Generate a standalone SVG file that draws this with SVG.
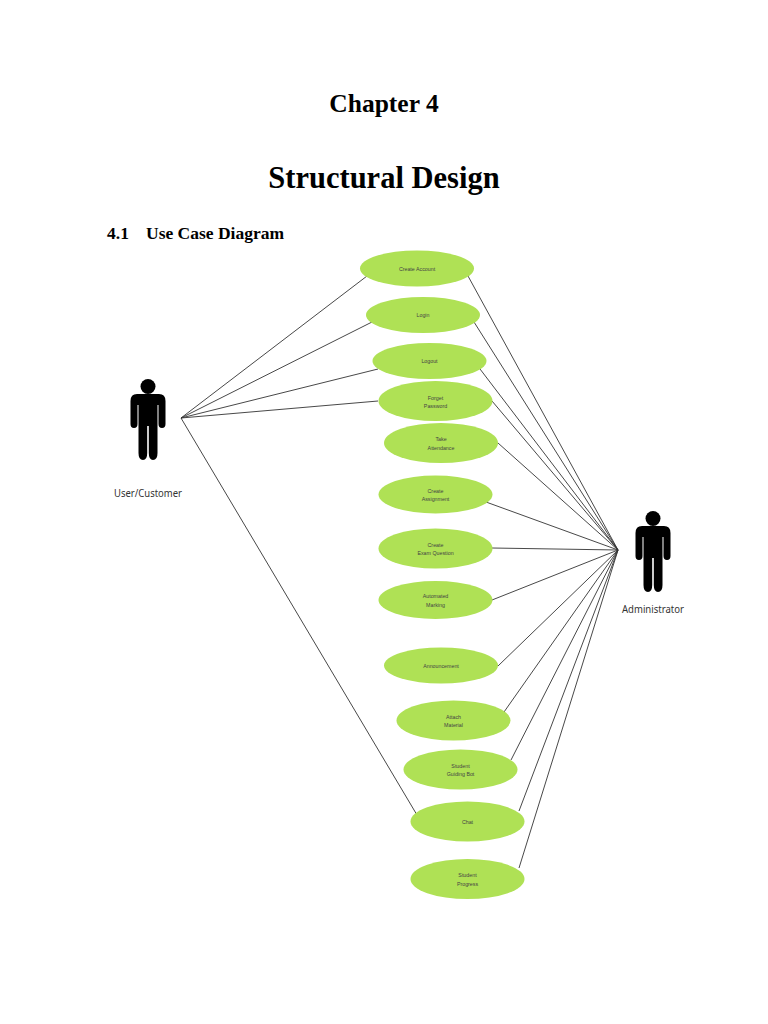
<svg xmlns="http://www.w3.org/2000/svg" width="768" height="1024" viewBox="0 0 768 1024">
<style>
.h{font-family:"Liberation Serif",serif;font-weight:bold;fill:#000}
.u{fill:#afe155}
.t{font-family:"Liberation Sans",sans-serif;font-size:5.3px;fill:#444;text-anchor:middle}
.a{font-family:"Noto Sans","Liberation Sans",sans-serif;font-size:10.5px;fill:#333;text-anchor:middle}
#connectors line{stroke:#333;stroke-width:.9}
</style>
<defs>
<g id="person"><circle cx="0" cy="-33.500" r="7.500" fill="#000"/><path d="M-11-26H11Q17.500-26 17.500-19V4Q17.500 8 14 8Q10.500 8 10.500 4V-15H9.500V33Q9.500 40 5 40Q.8 40 .8 33V6H-.8V33Q-.8 40-5 40Q-9.500 40-9.500 33V-15H-10.500V4Q-10.500 8-14 8Q-17.500 8-17.500 4V-19Q-17.500-26-11-26Z" fill="#000"/></g>
</defs>
<rect width="768" height="1024" fill="#fff"/>
<text class="h" x="384" y="112" font-size="25.500" text-anchor="middle">Chapter 4</text>
<text class="h" x="384" y="188" font-size="30.500" text-anchor="middle">Structural Design</text>
<text class="h" x="107" y="239" font-size="17.500">4.1</text>
<text class="h" x="146" y="239" font-size="17.500">Use Case Diagram</text>
<g id="connectors">
<line x1="181" y1="418" x2="367" y2="276"/><line x1="181" y1="418" x2="372" y2="322"/><line x1="181" y1="418" x2="378" y2="369"/><line x1="181" y1="418" x2="378" y2="401"/><line x1="181" y1="418" x2="417" y2="815"/>
<line x1="618" y1="550" x2="468" y2="276"/><line x1="618" y1="550" x2="474" y2="322"/><line x1="618" y1="550" x2="480" y2="369"/><line x1="618" y1="550" x2="492" y2="401"/><line x1="618" y1="550" x2="498" y2="443"/><line x1="618" y1="550" x2="486" y2="502"/><line x1="618" y1="550" x2="492" y2="548"/><line x1="618" y1="550" x2="492" y2="600"/><line x1="618" y1="550" x2="498" y2="666"/><line x1="618" y1="550" x2="504" y2="712"/><line x1="618" y1="550" x2="511" y2="760"/><line x1="618" y1="550" x2="519" y2="811"/><line x1="618" y1="550" x2="519" y2="868"/>
</g>
<g id="actor-user"><use href="#person" x="148" y="420"/><text class="a" x="148" y="497" textLength="68" lengthAdjust="spacingAndGlyphs">User/Customer</text></g>
<g id="actor-admin"><use href="#person" x="653" y="552"/><text class="a" x="653" y="613" textLength="62" lengthAdjust="spacingAndGlyphs">Administrator</text></g>
<g id="uc1"><ellipse class="u" cx="417" cy="268.500" rx="57" ry="18"/><text class="t" x="417" y="270.500">Create Account</text></g>
<g id="uc2"><ellipse class="u" cx="423" cy="315" rx="57" ry="18"/><text class="t" x="423" y="317">Login</text></g>
<g id="uc3"><ellipse class="u" cx="429.500" cy="361" rx="57" ry="18"/><text class="t" x="429.500" y="363">Logout</text></g>
<g id="uc4"><ellipse class="u" cx="435.500" cy="401" rx="57" ry="20"/><text class="t" x="435.500" y="399.500">Forget</text><text class="t" x="435.500" y="407.500">Password</text></g>
<g id="uc5"><ellipse class="u" cx="441" cy="443" rx="57" ry="20"/><text class="t" x="441" y="441">Take</text><text class="t" x="441" y="449.500">Attendance</text></g>
<g id="uc6"><ellipse class="u" cx="435.500" cy="494.500" rx="57" ry="19"/><text class="t" x="435.500" y="492.500">Create</text><text class="t" x="435.500" y="500.500">Assignment</text></g>
<g id="uc7"><ellipse class="u" cx="435.500" cy="548.500" rx="57" ry="20"/><text class="t" x="435.500" y="546.500">Create</text><text class="t" x="435.500" y="555">Exam Question</text></g>
<g id="uc8"><ellipse class="u" cx="435.500" cy="600" rx="57" ry="19"/><text class="t" x="435.500" y="598">Automated</text><text class="t" x="435.500" y="606.500">Marking</text></g>
<g id="uc9"><ellipse class="u" cx="441" cy="665.500" rx="57" ry="18"/><text class="t" x="441" y="667.500">Announcement</text></g>
<g id="uc10"><ellipse class="u" cx="453.500" cy="720.500" rx="57" ry="20"/><text class="t" x="453.500" y="718.500">Attach</text><text class="t" x="453.500" y="727">Material</text></g>
<g id="uc11"><ellipse class="u" cx="460.500" cy="769.500" rx="57" ry="20"/><text class="t" x="460.500" y="767.500">Student</text><text class="t" x="460.500" y="776">Guiding Bot</text></g>
<g id="uc12"><ellipse class="u" cx="467.500" cy="821.500" rx="57" ry="20"/><text class="t" x="467.500" y="823.500">Chat</text></g>
<g id="uc13"><ellipse class="u" cx="467.500" cy="879" rx="57" ry="20"/><text class="t" x="467.500" y="877">Student</text><text class="t" x="467.500" y="885.500">Progress</text></g>
</svg>
